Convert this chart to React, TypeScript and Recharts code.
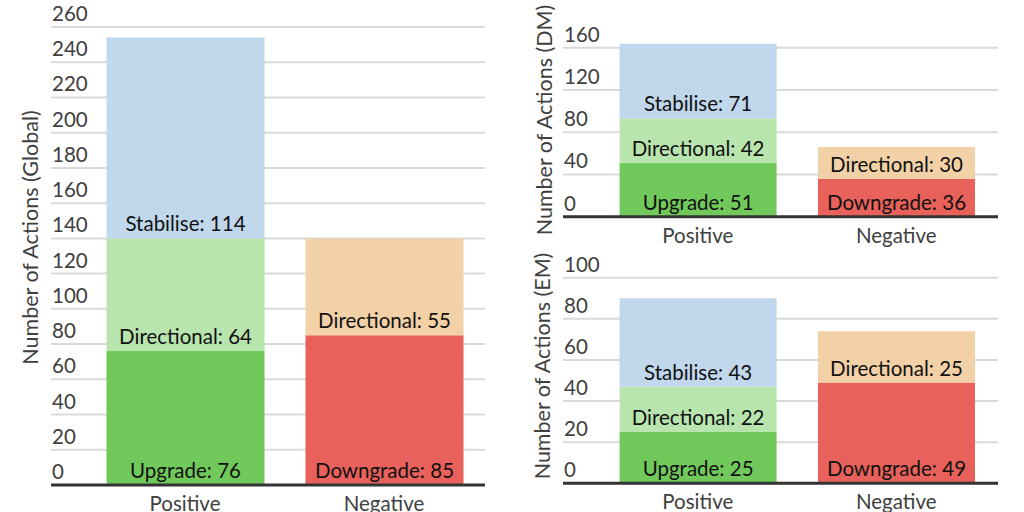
import { Bar, BarChart, CartesianGrid, Cell, LabelList, XAxis, YAxis } from "recharts";

// categories + series
const categories = ["Positive", "Negative"];
const baseNames = ["Upgrade", "Downgrade"];

const globalBase = [76, 85];
const globalDirectional = [64, 55];
const globalStabilise = [114, 0];

const dmBase = [51, 36];
const dmDirectional = [42, 30];
const dmStabilise = [71, 0];

const emBase = [25, 49];
const emDirectional = [22, 25];
const emStabilise = [43, 0];

const globalTicks = [0, 20, 40, 60, 80, 100, 120, 140, 160, 180, 200, 220, 240, 260];
const dmTicks = [0, 40, 80, 120, 160];
const emTicks = [0, 20, 40, 60, 80, 100];

const baseColors = ["#71c95c", "#e8615a"];
const directionalColors = ["#b8e4ad", "#f3d1a6"];
const stabiliseColors = ["#c0d7ec", "#c0d7ec"];

const FONT = "Lato, 'Open Sans', sans-serif";
const FS = 20.5;
const TITLE_FS = 21.5;

function buildRows(base: number[], directional: number[], stabilise: number[]) {
  return categories.map((name, i) => ({
    name,
    base: base[i],
    directional: directional[i],
    stabilise: stabilise[i],
  }));
}

type PanelProps = {
  left: number;
  top: number;
  width: number;
  height: number;
  margin: { top: number; right: number; bottom: number; left: number };
  xAxisHeight: number;
  padLeft: number;
  padRight: number;
  barSize: number;
  domain: [number, number];
  ticks: number[];
  title: string;
  titleX: number;
  titleY: number;
  base: number[];
  directional: number[];
  stabilise: number[];
};

function segmentLabel(names: string[] | string) {
  return (p: any) => {
    const v = Number(p.value);
    if (!v) return null;
    const label = Array.isArray(names) ? names[p.index ?? 0] : names;
    return (
      <text
        x={Number(p.x) + Number(p.width) / 2}
        y={Number(p.y) + Number(p.height) - 7}
        textAnchor="middle"
        fill="#111"
        fontSize={FS}
        fontFamily={FONT}
      >
        {`${label}: ${v}`}
      </text>
    );
  };
}

function Panel(props: PanelProps) {
  const data = buildRows(props.base, props.directional, props.stabilise);
  const axisY = props.height - props.margin.bottom - props.xAxisHeight;
  // y axis takes 1px, plot starts right after it
  const plotLeft = props.margin.left + 1;

  return (
    <div style={{ position: "absolute", left: props.left, top: props.top }}>
      <BarChart width={props.width} height={props.height} data={data} margin={props.margin}>
        <CartesianGrid
          vertical={false}
          horizontalValues={props.ticks}
          stroke="#d9d9d9"
          strokeWidth={2}
        />
        <XAxis
          dataKey="name"
          height={props.xAxisHeight}
          padding={{ left: props.padLeft, right: props.padRight }}
          tickLine={false}
          axisLine={{ stroke: "#333", strokeWidth: 3 }}
          tick={(t: any) => (
            <text
              x={t.x}
              y={axisY + 26}
              textAnchor="middle"
              fill="#404040"
              fontSize={FS}
              fontFamily={FONT}
            >
              {t.payload.value}
            </text>
          )}
        />
        <YAxis
          width={1}
          domain={props.domain}
          ticks={props.ticks}
          interval={0}
          allowDataOverflow
          axisLine={false}
          tickLine={false}
          tick={(t: any) => (
            <text
              x={plotLeft + 1}
              y={t.y - 6}
              textAnchor="start"
              fill="#404040"
              fontSize={FS}
              fontFamily={FONT}
            >
              {t.payload.value}
            </text>
          )}
          label={() => (
            <text
              x={props.titleX}
              y={props.titleY}
              transform={`rotate(-90 ${props.titleX} ${props.titleY})`}
              textAnchor="middle"
              dominantBaseline="central"
              fill="#404040"
              fontSize={TITLE_FS}
              fontFamily={FONT}
            >
              {props.title}
            </text>
          )}
        />
        <Bar dataKey="base" stackId="s" barSize={props.barSize} isAnimationActive={false}>
          {data.map((_, i) => (
            <Cell key={i} fill={baseColors[i]} />
          ))}
          <LabelList dataKey="base" content={segmentLabel(baseNames)} />
        </Bar>
        <Bar dataKey="directional" stackId="s" barSize={props.barSize} isAnimationActive={false}>
          {data.map((_, i) => (
            <Cell key={i} fill={directionalColors[i]} />
          ))}
          <LabelList dataKey="directional" content={segmentLabel("Directional")} />
        </Bar>
        <Bar dataKey="stabilise" stackId="s" barSize={props.barSize} isAnimationActive={false}>
          {data.map((_, i) => (
            <Cell key={i} fill={stabiliseColors[i]} />
          ))}
          <LabelList dataKey="stabilise" content={segmentLabel("Stabilise")} />
        </Bar>
      </BarChart>
    </div>
  );
}

export default function App() {
  return (
    <div
      style={{
        position: "absolute",
        left: 0,
        top: 0,
        width: 1024,
        height: 512,
        overflow: "hidden",
        background: "#fff",
      }}
    >
      <Panel
        left={0}
        top={0}
        width={500}
        height={512}
        margin={{ top: 27, right: 15, bottom: 0, left: 50 }}
        xAxisHeight={27}
        padLeft={34.5}
        padRight={1.5}
        barSize={158}
        domain={[0, 260]}
        ticks={globalTicks}
        title="Number of Actions (Global)"
        titleX={29.5}
        titleY={237.5}
        base={globalBase}
        directional={globalDirectional}
        stabilise={globalStabilise}
      />
      <Panel
        left={510}
        top={0}
        width={514}
        height={250}
        margin={{ top: 43.5, right: 26, bottom: 0, left: 52 }}
        xAxisHeight={33.3}
        padLeft={35.6}
        padRight={2.6}
        barSize={157}
        domain={[0, 164]}
        ticks={dmTicks}
        title="Number of Actions (DM)"
        titleX={34}
        titleY={120}
        base={dmBase}
        directional={dmDirectional}
        stabilise={dmStabilise}
      />
      <Panel
        left={510}
        top={250}
        width={514}
        height={262}
        margin={{ top: 27.7, right: 26, bottom: 0, left: 52 }}
        xAxisHeight={28.7}
        padLeft={35.6}
        padRight={2.6}
        barSize={157}
        domain={[0, 100]}
        ticks={emTicks}
        title="Number of Actions (EM)"
        titleX={32}
        titleY={116}
        base={emBase}
        directional={emDirectional}
        stabilise={emStabilise}
      />
    </div>
  );
}
